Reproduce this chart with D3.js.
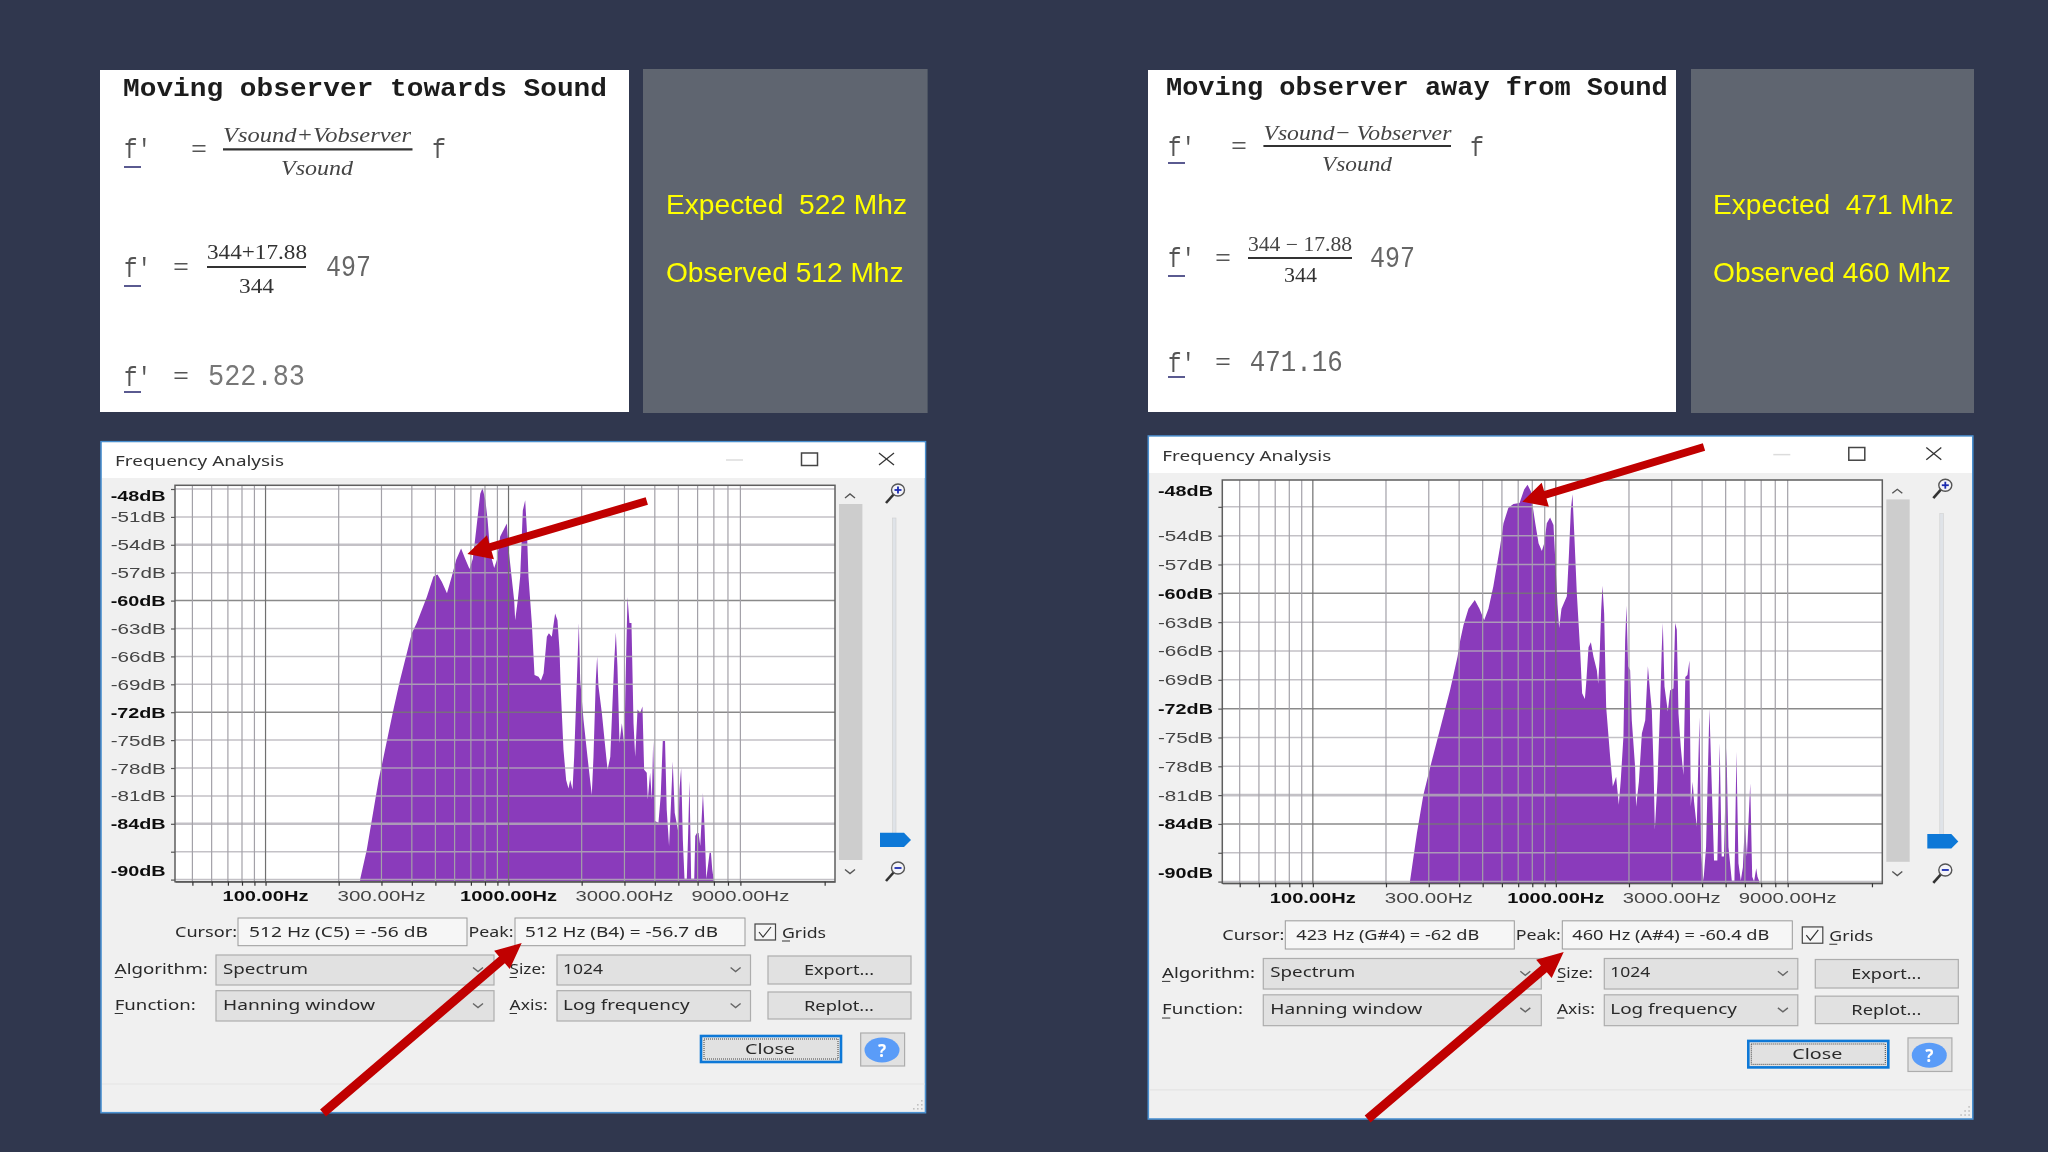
<!DOCTYPE html>
<html><head><meta charset="utf-8">
<script src="https://cdn.jsdelivr.net/npm/d3@7"></script>
<style>html,body{margin:0;padding:0;background:#30374e}svg{display:block}text{white-space:pre}</style>
</head><body><svg id="c" width="2048" height="1152"></svg>
<script>
// ---------- chart values ----------
const leftHz = [245,261,292,306,336,358,400,419,461,491,
510,532,558,584,609,638,663,691,713,736,
765,782,803,820,841,873,896,924,984,1003,
1029,1055,1065,1092,1117,1145,1171,1190,1208,1247,
1279,1329,1359,1394,1438,1466,1507,1555,1590,1621,
1641,1683,1726,1765,1794,1834,1863,1911,1947,1972,
2035,2113,2201,2237,2287,2316,2345,2422,2499,2556,
2623,2722,2765,2807,2862,2927,2998,3030,3088,3146,
3206,3269,3321,3396,3480,3558,3615,3706,3742,3826,
3888,3938,4000,4140,4232,4313,4407,4478,4578,4666,
4740,4830,5006,5054,5134,5216,5299,5417,5486,5556,
5644,5812,5868,5962,6057,6153,6212,6311,6412,6516,
6725,6810,6890,6980];
const leftDb = [-90,-86.8,-79.3,-76.8,-71.7,-68.5,-63.5,-62.4,-59.6,-57.4,
-57.2,-58,-59.2,-57.4,-55.6,-54.4,-55.5,-56.6,-55.5,-52.4,
-48.5,-47.9,-49.2,-51.3,-54.9,-56.5,-55.6,-53.1,-51.7,-54.7,
-57.4,-60,-62.1,-59.9,-57.4,-50.3,-49.2,-52.4,-57.4,-62.4,
-68,-68.2,-68.6,-67.8,-63.9,-63.5,-63.9,-61.4,-62.1,-65.3,
-69.6,-76,-79.3,-80.2,-79.3,-80.3,-76.8,-68.5,-62.4,-68.5,
-72.8,-76.8,-80.9,-76.8,-68.5,-66,-69.2,-72.1,-75.7,-78.2,
-76.8,-66.6,-63.4,-67.1,-75.3,-73.2,-75.7,-68.9,-59.6,-62.4,
-62.4,-73.2,-76.8,-71.7,-72.1,-71.4,-78.2,-78.5,-81.4,-78.5,
-81.4,-75.1,-83.7,-83.9,-80.9,-75.1,-75.1,-82.5,-86.4,-81.6,
-77.3,-82.8,-85,-80.3,-78,-85.7,-89.9,-89.9,-85,-79.4,
-89.9,-89.9,-85.3,-85,-85,-86.4,-84.3,-80.7,-84.5,-89.9,
-87.1,-87.1,-88.9,-89.9];
const rightHz = [251,255,268,285,304,334,367,394,404,417,
437,464,485,507,528,553,590,609,638,669,
709,741,765,790,805,823,849,876,896,918,
947,978,998,1016,1032,1055,1110,1131,1153,1171,
1190,1220,1259,1283,1317,1333,1363,1394,1429,1475,
1494,1513,1537,1556,1581,1611,1673,1716,1771,1816,
1851,1898,1929,1953,1984,2022,2054,2120,2140,2197,
2260,2333,2393,2446,2484,2524,2556,2622,2687,2730,
2756,2800,2890,2955,3049,3098,3147,3197,3267,3350,
3412,3480,3548,3593,3659,3706,3802,3900,3962,4051,
4153,4286,4380,4478,4621,4725,4815,4921,5038,5134,
5299,5434,5537,5644,5770,5887,6000,6114,6311,6430,
6545,6680,6760,6880];
const rightDb = [-90,-88.8,-85,-81,-78.1,-74.1,-70.1,-66.6,-64.9,-63.3,
-61.6,-60.7,-61.6,-62.8,-61.6,-59.3,-55.1,-52.7,-51.1,-50.7,
-50.6,-49.2,-48.7,-49.4,-51.1,-52.7,-54.8,-55.6,-54.8,-52.7,
-52.1,-52.9,-57.2,-61.2,-63.6,-61.6,-60.3,-56.2,-51.3,-49.7,
-53.6,-60,-65.9,-70.4,-71,-69.4,-65.6,-65.1,-66.6,-68,
-69.4,-66.9,-61.7,-59.2,-62.1,-71.8,-77,-80.1,-79.1,-82,
-79.4,-74.9,-64.9,-61.3,-67.6,-68,-73.2,-78.1,-82.2,-79.6,
-74.6,-73.2,-67.6,-70.4,-72.2,-78.1,-84.6,-79.4,-71.8,-65.6,
-63.1,-69.7,-72.3,-70.1,-69.9,-63.1,-63.8,-72.5,-76,-78.9,
-68.7,-68.5,-67,-82.2,-79.6,-81.7,-84.3,-72.9,-87.1,-89.9,
-86.4,-72,-79.8,-87.8,-87.8,-75.6,-87.4,-87.4,-76.1,-86.4,
-89.9,-89.9,-76.5,-88.1,-89.9,-88.5,-83.8,-87.4,-79.8,-89.5,
-90,-88.6,-89.5,-90];
const gridHz = [50,60,70,80,90,100,200,300,400,500,600,700,800,900,1000,2000,3000,4000,5000,6000,7000,8000,9000];
const tickHz = gridHz.concat([20000]);
const xLabelHz = [100,300,1000,3000,9000];
const boldHz = [100,1000];
const gridDb = [-48,-51,-54,-57,-60,-63,-66,-69,-72,-75,-78,-81,-84,-87,-90];
const leftLabelDb = [-48,-51,-54,-57,-60,-63,-66,-69,-72,-75,-78,-81,-84,-90];
const rightLabelDb = [-48,-54,-57,-60,-63,-66,-69,-72,-75,-78,-81,-84,-90];
const boldDb = [-48,-60,-72,-84,-90];
const leftCursor = "512 Hz (C5) = -56 dB", leftPeak = "512 Hz (B4) = -56.7 dB";
const rightCursor = "423 Hz (G#4) = -62 dB", rightPeak = "460 Hz (A#4) = -60.4 dB";

// ---------- helpers ----------
const svg = d3.select("#c");
svg.append("rect").attr("width",2048).attr("height",1152).attr("fill","#30374e");
const defs = svg.append("defs");
defs.append("filter").attr("id","soft").attr("filterUnits","userSpaceOnUse").attr("x",0).attr("y",0).attr("width",2048).attr("height",1152)
  .append("feGaussianBlur").attr("stdDeviation",0.7);
const root = svg.append("g").attr("filter","url(#soft)");
const SANS="'Liberation Sans',Arial,sans-serif", UI="'Noto Sans',sans-serif", MONO="'Liberation Mono',monospace", SERIF="'Liberation Serif',serif";
function T(g,s,x,y,o={}){
  const t=g.append("text").attr("x",x).attr("y",y).attr("dominant-baseline","central")
    .attr("font-family",o.font||UI).attr("font-size",o.size||14).attr("fill",o.fill||"#222")
    .attr("text-anchor",o.anchor||"start").text(s);
  if(o.w) t.attr("textLength",o.w).attr("lengthAdjust","spacingAndGlyphs");
  if(o.bold) t.attr("font-weight","bold");
  if(o.italic) t.attr("font-style","italic");
  return t;
}
function R(g,x0,y0,x1,y1,fill,stroke,sw){
  return g.append("rect").attr("x",x0).attr("y",y0).attr("width",x1-x0).attr("height",y1-y0)
    .attr("fill",fill).attr("stroke",stroke||"none").attr("stroke-width",sw||0);
}
function L(g,x0,y0,x1,y1,c,w){
  return g.append("line").attr("x1",x0).attr("y1",y0).attr("x2",x1).attr("y2",y1).attr("stroke",c).attr("stroke-width",w||1);
}
function arrow(g,tail,tip,hl,hw,sw){
  const dx=tip[0]-tail[0],dy=tip[1]-tail[1],n=Math.hypot(dx,dy),u=dx/n,v=dy/n,px=-v,py=u;
  const bx=tip[0]-u*hl,by=tip[1]-v*hl;
  const pts=[[tail[0]+px*sw/2,tail[1]+py*sw/2],[bx+px*sw/2,by+py*sw/2],[bx+px*hw/2,by+py*hw/2],tip,
    [bx-px*hw/2,by-py*hw/2],[bx-px*sw/2,by-py*sw/2],[tail[0]-px*sw/2,tail[1]-py*sw/2]];
  g.append("polygon").attr("points",pts.map(p=>p.join(",")).join(" ")).attr("fill","#c00000");
}
function chevron(g,x,y,up,c){
  const s=up?-1:1;
  g.append("path").attr("d",`M${x-5},${y-2*s} L${x},${y+2*s} L${x+5},${y-2*s}`).attr("fill","none").attr("stroke",c||"#555").attr("stroke-width",1.4);
}
function magnifier(g,x,y,sign){
  g.append("line").attr("x1",x-10).attr("y1",y+10).attr("x2",x-2).attr("y2",y+1).attr("stroke","#333").attr("stroke-width",2.6);
  g.append("ellipse").attr("cx",x+2).attr("cy",y-3).attr("rx",6.5).attr("ry",6).attr("fill","#f4f4f8").attr("stroke","#555").attr("stroke-width",1.4);
  L(g,x-1.5,y-3,x+5.5,y-3,"#1a2bb0",1.8);
  if(sign>0) L(g,x+2,y-6.5,x+2,y+0.5,"#1a2bb0",1.8);
}

// ---------- top text panels ----------
function formulaPanel(p){
  const g=root.append("g");
  R(g,p.wx0,70,p.wx1,412,"#fff");
  R(g,p.gx0,69,p.gx1,413,"#5f6570");
  T(g,p.title,p.tx,p.ty,{font:MONO,size:25,bold:true,w:p.tw,fill:"#1c1c1c"});
  p.primes.forEach(q=>{
    T(g,q.s,q.x,q.y,{font:MONO,size:q.size||24,w:q.w,fill:"#555"});
    L(g,q.x,q.uy,q.x+17,q.uy,"#5a5a90",2);
  });
  p.texts.forEach(q=>T(g,q.s,q.x,q.y,{font:q.font||MONO,size:q.size||22,w:q.w,italic:q.italic,fill:q.fill||"#555"}));
  p.bars.forEach(b=>L(g,b[0],b[2],b[1],b[2],"#333",2.2));
  T(g,p.e,p.yx,204.5,{font:SANS,size:27.5,w:p.ew,fill:"#ffff00"});
  T(g,p.o,p.yx,272.5,{font:SANS,size:27.5,w:p.ow,fill:"#ffff00"});
}
formulaPanel({wx0:100,wx1:629,gx0:643,gx1:927.6,title:"Moving observer towards Sound",tx:123,ty:89,tw:484,
  primes:[{s:"f'",x:124,y:150,w:27,uy:167,size:28},{s:"f′",x:124,y:269,w:27,uy:286,size:28},{s:"f′",x:124,y:378,w:27,uy:392,size:28}],
  texts:[{s:"=",x:191,y:150,w:16},
    {s:"Vsound+Vobserver",x:223,y:134,w:188,font:SERIF,italic:true,size:22,fill:"#444"},
    {s:"Vsound",x:281,y:167,w:72,font:SERIF,italic:true,size:22,fill:"#444"},
    {s:"f",x:432,y:150,w:14,size:28},
    {s:"=",x:173,y:268,w:16},
    {s:"344+17.88",x:207,y:252,w:100,font:SERIF,size:20,fill:"#333"},
    {s:"344",x:239,y:286,w:35,font:SERIF,size:20,fill:"#333"},
    {s:"497",x:326,y:268.5,w:45,size:29,fill:"#666"},
    {s:"=",x:173,y:377,w:16},
    {s:"522.83",x:208,y:377.5,w:97,size:29,fill:"#777"}],
  bars:[[223,412.5,149.3],[207,306,267]],
  e:"Expected  522 Mhz",o:"Observed 512 Mhz",yx:666,ew:241,ow:237.5});
formulaPanel({wx0:1148,wx1:1676,gx0:1691,gx1:1974,title:"Moving observer away from Sound",tx:1166,ty:88,tw:501.7,
  primes:[{s:"f'",x:1168,y:148,w:27,uy:163,size:28},{s:"f′",x:1168,y:259,w:27,uy:276,size:28},{s:"f′",x:1168,y:364,w:27,uy:377,size:28}],
  texts:[{s:"=",x:1231,y:147,w:16},
    {s:"Vsound− Vobserver",x:1263.4,y:132,w:188,font:SERIF,italic:true,size:22,fill:"#444"},
    {s:"Vsound",x:1322,y:163,w:70,font:SERIF,italic:true,size:22,fill:"#444"},
    {s:"f",x:1470,y:148,w:14,size:28},
    {s:"=",x:1215,y:259,w:16},
    {s:"344 − 17.88",x:1248,y:244,w:104,font:SERIF,size:20,fill:"#444"},
    {s:"344",x:1284,y:275,w:33,font:SERIF,size:20,fill:"#333"},
    {s:"497",x:1370,y:259.5,w:45,size:29,fill:"#666"},
    {s:"=",x:1215,y:363,w:16},
    {s:"471.16",x:1249.7,y:363.5,w:93,size:29,fill:"#666"}],
  bars:[[1263.4,1451,146],[1248,1352,258]],
  e:"Expected  471 Mhz",o:"Observed 460 Mhz",yx:1713,ew:240.5,ow:237.7});

// ---------- dialog + spectrum ----------
function dialog(p){
  const g=root.append("g");
  const X=x=>x+p.ox, Y=y=>p.oy+(y-441.7)*p.k;
  R(g,X(101),Y(441.7),X(925.5),Y(1112.7),"#f0f0f0","#4a90d0",1.6);
  R(g,X(102),Y(442.5),X(924.7),Y(478),"#ffffff");
  T(g,"Frequency Analysis",X(115),Y(460),{size:15,w:169,fill:"#333"});
  L(g,X(726),Y(460),X(743),Y(460),"#dcdcdc",1.5);
  R(g,X(801.5),Y(453),X(817.5),Y(465.5),"none","#444",1.5);
  L(g,X(879),Y(453),X(894),Y(465),"#333",1.3); L(g,X(894),Y(453),X(879),Y(465),"#333",1.3);

  // plot
  const left=X(175), right=X(835), top=p.top, bottom=p.bottom;
  const x=d3.scaleLog().domain([42.4,22060]).range([left,right]);
  const y=d3.scaleLinear().domain([-48,-90]).range([p.y48,p.y90]);
  R(g,left,top,right,bottom,"#ffffff");
  const area=d3.area().x(d=>x(d[0])).y0(bottom).y1(d=>y(d[1])).curve(d3.curveLinear);
  g.append("path").datum(d3.zip(p.hz,p.db)).attr("d",area).attr("fill","#8a3abb");
  // grids
  gridDb.filter(v=>y(v)>=top).forEach(v=>{
    const dark=p.darkDb.includes(v), thick=p.thickDb.includes(v);
    L(g,left,y(v),right,y(v),dark?"#767676":"#b4b2b8",dark?1.5:(thick?2.6:1.5)).attr("stroke-opacity",dark?0.85:0.8);
  });
  gridHz.forEach(v=>{
    const dark=boldHz.includes(v);
    L(g,x(v),top,x(v),bottom,dark?"#6f6f6f":"#a3a1a8",1.2);
  });
  R(g,left,top,right,bottom,"none","#5e5e5e",1.5);
  // axes
  const ax=g.append("g").attr("transform",`translate(0,${bottom})`)
    .call(d3.axisBottom(x).tickValues(tickHz).tickFormat("").tickSize(4).tickSizeOuter(0));
  ax.selectAll("path").attr("stroke","#555"); ax.selectAll("line").attr("stroke","#333").attr("stroke-width",1.2);
  const ay=g.append("g").attr("transform",`translate(${left},0)`)
    .call(d3.axisLeft(y).tickValues(gridDb.filter(v=>y(v)>=top)).tickFormat("").tickSize(4).tickSizeOuter(0));
  ay.selectAll("path").attr("stroke","none"); ay.selectAll("line").attr("stroke","#555").attr("stroke-width",1.2);
  xLabelHz.forEach(v=>{
    const b=boldHz.includes(v);
    T(g,d3.format(".2f")(v)+"Hz",x(v),Y(895.5),{font:SANS,size:15,anchor:"middle",bold:b,w:String(v).length>3?(b?97:98):(b?86:88),fill:b?"#111":"#444"});
  });
  p.labelDb.forEach(v=>{
    const b=boldDb.includes(v);
    const ly=Math.min(Math.max(y(v),top+10.5),bottom-11);
    T(g,v+"dB",X(165.7),ly,{font:SANS,size:15,anchor:"end",bold:b,w:55,fill:b?"#111":"#444"});
  });
  // scroll + zoom column
  R(g,X(839),Y(504),X(862.4),Y(860),"#cdcdcd");
  chevron(g,X(850),Y(496),true); chevron(g,X(850),Y(871.5),false);
  magnifier(g,X(896),Y(493),1); magnifier(g,X(896),Y(871),-1);
  R(g,X(892.5),Y(518),X(896),Y(835),"#dfe3e8","#cfcfcf",0.6);
  g.append("path").attr("d",`M${X(880)},${Y(832.7)} H${X(904)} L${X(911)},${Y(840)} L${X(904)},${Y(847)} H${X(880)} Z`).attr("fill","#0a78d7");
  // controls
  const txt={size:14,fill:"#2a2a2a"};
  T(g,"Cursor:",X(175),Y(931),{...txt,w:62});
  R(g,X(238),Y(918),X(467),Y(945.7),"#f6f6f6","#9a9a9a",1);
  T(g,p.cursor,X(249),Y(931),{...txt,w:p.cw});
  T(g,"Peak:",X(468.5),Y(931),{...txt,w:45});
  R(g,X(515),Y(918),X(745),Y(945.7),"#f6f6f6","#9a9a9a",1);
  T(g,p.peak,X(525),Y(931),{...txt,w:p.pw});
  R(g,X(755),Y(924),X(775.5),Y(940),"#f6f6f6","#444",1.2);
  g.append("path").attr("d",`M${X(759)},${Y(932)} L${X(763)},${Y(937)} L${X(771)},${Y(927)}`).attr("fill","none").attr("stroke","#333").attr("stroke-width",1.2);
  T(g,"Grids",X(782),Y(932),{...txt,w:44});
  L(g,X(782),Y(941),X(790),Y(941),"#333",1);
  [["Algorithm:",968.5,93,955,985],["Function:",1004.5,81,990.7,1021]].forEach(r=>{
    T(g,r[0],X(114.7),Y(r[1]),{...txt,w:r[2]});
    L(g,X(114.7),Y(r[1]+9),X(123),Y(r[1]+9),"#333",1);
    R(g,X(216),Y(r[3]),X(494),Y(r[4]),"#e1e1e1","#adadad",1.2);
    chevron(g,X(478),Y(r[1]+1),false,"#666");
  });
  T(g,"Spectrum",X(223),Y(968),{...txt,w:85});
  T(g,"Hanning window",X(223),Y(1004),{...txt,w:152});
  [["Size:",968.5,36,955,985],["Axis:",1004.5,38,990.7,1021]].forEach(r=>{
    T(g,r[0],X(509.6),Y(r[1]),{...txt,w:r[2]});
    L(g,X(509.6),Y(r[1]+9),X(517),Y(r[1]+9),"#333",1);
    R(g,X(557),Y(r[3]),X(750.5),Y(r[4]),"#e1e1e1","#adadad",1.2);
    chevron(g,X(735.6),Y(r[1]+1),false,"#666");
  });
  T(g,"1024",X(563),Y(968),{...txt,w:40});
  T(g,"Log frequency",X(563),Y(1004),{...txt,w:126.6});
  [["Export...",956,984,969.5],["Replot...",992,1019,1005]].forEach(r=>{
    R(g,X(768),Y(r[1]),X(911),Y(r[2]),"#e1e1e1","#adadad",1.2);
    T(g,r[0],X(839),Y(r[3]),{...txt,anchor:"middle",w:70});
  });
  R(g,X(701),Y(1036),X(841),Y(1062),"#e1e1e1","#0a78d7",2.6);
  R(g,X(704),Y(1039),X(838),Y(1059),"none","#333",0.9).attr("stroke-dasharray","1,1");
  T(g,"Close",X(770),Y(1048.5),{...txt,anchor:"middle",w:50});
  R(g,X(860.7),Y(1033),X(904.6),Y(1066),"#e1e1e1","#adadad",1.2);
  g.append("ellipse").attr("cx",X(882)).attr("cy",Y(1050)).attr("rx",17.5).attr("ry",12.5).attr("fill","#5a9cf8");
  T(g,"?",X(882),Y(1050),{size:17,anchor:"middle",bold:true,fill:"#fff"});
  L(g,X(102),Y(1084),X(924.7),Y(1084),"#e4e4e4",1.2);
  [[917,1108],[913,1108],[921,1108],[921,1104],[917,1104],[921,1100]].forEach(q=>R(g,X(q[0]),Y(q[1]),X(q[0]+1.6),Y(q[1]+1.6),"#c0c0c0"));
  // annotation arrows
  arrow(g,p.a1[0],p.a1[1],24,25,8);
  arrow(g,p.a2[0],p.a2[1],26,24,9);
}
dialog({ox:0,oy:441.7,k:1,top:485.3,bottom:881.7,y48:489,y90:879.6,hz:leftHz,db:leftDb,
  darkDb:[-60,-72],thickDb:[-54,-84],labelDb:leftLabelDb,cursor:leftCursor,peak:leftPeak,cw:179,pw:193,
  a1:[[646.8,501],[467.4,554]],a2:[[323,1113],[521.7,943]]});
dialog({ox:1047.3,oy:436,k:1.0179,top:480,bottom:883.3,y48:478,y90:881.6,hz:rightHz,db:rightDb,
  darkDb:[-60,-72,-84],thickDb:[-81],labelDb:rightLabelDb,cursor:rightCursor,peak:rightPeak,cw:183,pw:197,
  a1:[[1704,447],[1522.3,501.7]],a2:[[1367.6,1119],[1563.7,952]]});
</script></body></html>
